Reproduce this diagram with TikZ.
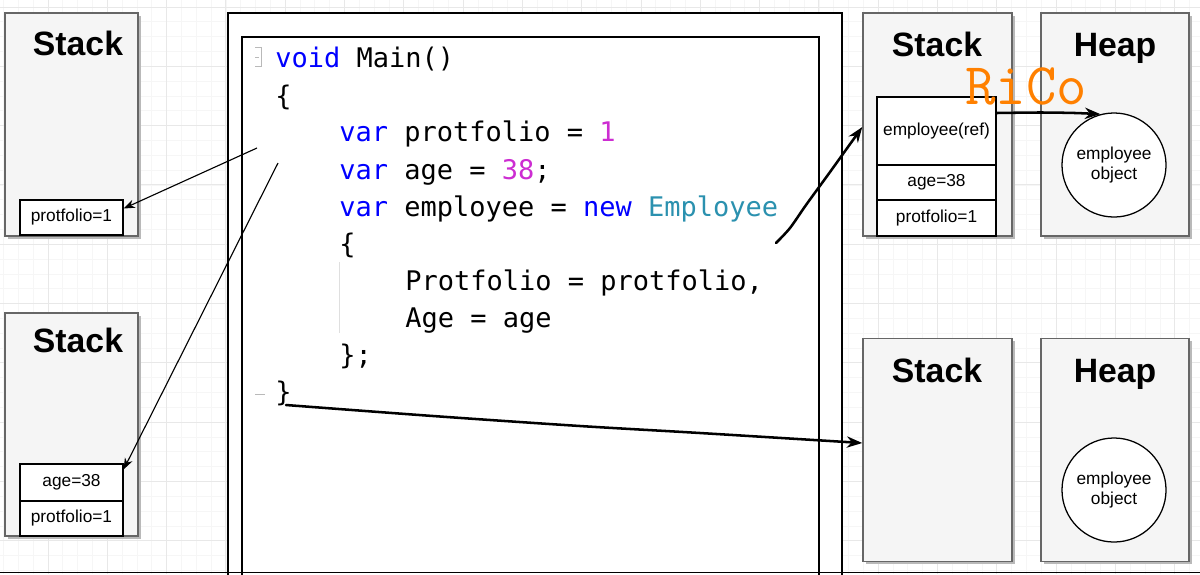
\documentclass[tikz,border=0pt]{standalone}
\usepackage{fontspec}
\setmainfont{Liberation Sans}
\newfontfamily\codefont{DejaVu Sans Mono}
\usetikzlibrary{%
  calc,arrows.meta,shadows}
\tikzset {>=Stealth}
\definecolor{kwblue}{RGB}{0,0,255}
\definecolor{numpink}{RGB}{205,45,210}
\definecolor{typeteal}{RGB}{43,145,175}
\definecolor{panelgray}{RGB}{245,245,245}
\definecolor{edgegray}{RGB}{102,102,102}
\definecolor{ricoorange}{RGB}{255,128,0}

\begin{document}
\begin{tikzpicture}[x=0.025cm,y=-0.025cm,
  memory/.style={draw=edgegray,fill=panelgray,line width=1pt,
    minimum width=3.325cm,minimum height=5.575cm,
    drop shadow={shadow xshift=0.07cm,shadow yshift=-0.07cm,fill=gray!55,opacity=1}},
  title/.style={anchor=base,inner sep=0pt,font=\bfseries\fontsize{24}{28}\selectfont},
  cell/.style={draw,fill=white,line width=0.9pt,inner sep=0pt,
    minimum width=2.575cm,minimum height=0.875cm,font=\fontsize{12.3}{14}\selectfont},
  obj/.style={circle,draw,fill=white,line width=0.9pt,minimum size=2.6cm,
    inner sep=0pt,align=center,font=\fontsize{12.3}{14.3}\selectfont},
  code/.style={anchor=base west,inner sep=0pt,font=\codefont\fontsize{19.2}{23}\selectfont},
  pointer/.style={->,line width=0.8pt,>={Stealth[length=8pt,width=6pt]}},
  scrawl/.style={-{Stealth[length=11pt,width=8pt]},line width=1.8pt,
    line cap=round,line join=round}]
\useasboundingbox (0,0) rectangle (1200,574);
% grid paper
\foreach \i in {0,...,80}
  \draw[gray!7,line width=0.5pt] ({3.5+\i*14.825},0) -- ++(0,574);
\foreach \i in {0,...,38}
  \draw[gray!7,line width=0.5pt] (0,{7+\i*14.825}) -- ++(1200,0);
\foreach \i in {0,...,19}
  \draw[gray!18,line width=0.6pt] ({48+\i*59.3},0) -- ++(0,574);
\foreach \i in {0,...,9}
  \draw[gray!18,line width=0.6pt] (0,{7+\i*59.3}) -- ++(1200,0);

% left: two stacks
\node (stack1) [memory] at (71.5,124.5) {};
\node (stack1t) [title] at (78,55) {Stack};
\node (pf1) [cell] at (71.5,217.5) {protfolio=1};

\node (stack2) [memory] at (71.5,424.5) {};
\node (stack2t) [title] at (78,352) {Stack};
\node (age2) [cell,minimum height=0.925cm] at (71.5,482.5) {age=38};
\node (pf2) [cell] at (71.5,518.5) {protfolio=1};

% code editor
\draw[line width=1.4pt,fill=white] (228,13) rectangle (842,590);
\draw[line width=1.1pt] (242,37) rectangle (819,590);
\draw[gray!55,line width=0.7pt] (255,47) -- (261,47) -- (261,66) -- (255,66)
  (255,57) -- (259,57);
\draw[gray!55,line width=0.7pt] (255,394) -- (265,394);
\draw[gray!25,line width=0.6pt] (339,262) -- (339,333);
\node (ln1) [code] at (275,67) {\textcolor{kwblue}{void} Main()};
\node (ln2) [code] at (275,105) {\{};
\node (ln3) [code] at (339,141) {\textcolor{kwblue}{var} protfolio = \textcolor{numpink}{1}};
\node (ln4) [code] at (339,179) {\textcolor{kwblue}{var} age = \textcolor{numpink}{38};};
\node (ln5) [code] at (339,216) {\textcolor{kwblue}{var} employee = \textcolor{kwblue}{new} \textcolor{typeteal}{Employee}};
\node (ln6) [code] at (339,253) {\{};
\node (ln7) [code] at (405,290) {Protfolio = protfolio,};
\node (ln8) [code] at (405,327) {Age = age};
\node (ln9) [code] at (339,364) {\};};
\node (ln10) [code] at (275,401) {\}};

% right: stack and heap, twice
\node (stackA) [memory,minimum width=3.725cm] at (937.5,124.5) {};
\node (stackAt) [title] at (937,56) {Stack};
\node (ref) [cell,minimum width=2.975cm,minimum height=1.7cm] at (936.5,131) {employee(ref)};
\node (age3) [cell,minimum width=2.975cm] at (936.5,182.5) {age=38};
\node (pf3) [cell,minimum width=2.975cm,minimum height=0.9cm] at (936.5,218) {protfolio=1};
\node (heapA) [memory,minimum width=3.7cm] at (1115,124.5) {};
\node (heapAt) [title] at (1115,56) {Heap};
\node (obj1) [obj] at (1114,165) {employee\\object};

\node (stackB) [memory,minimum width=3.725cm] at (937.5,450) {};
\node (stackBt) [title] at (937,382) {Stack};
\node (heapB) [memory,minimum width=3.7cm] at (1115,450) {};
\node (heapBt) [title] at (1115,382) {Heap};
\node (obj2) [obj] at (1114,490) {employee\\object};

% arrows
\coordinate (fromvar1) at (257,148);
\coordinate (fromvar2) at (278,163);
\coordinate (newcall) at (776,243);
\coordinate (endbrace) at (286,405);
\coordinate (hitA) at ($(stackA.west)+(0,2.5)$);
\coordinate (hitB) at ($(stackB.west)+(0,-7)$);
\coordinate (refout) at ($(ref.east)+(0,-18)$);
\draw[pointer] (fromvar1) -- ($(pf1.east)+(0,-9)$);
\draw[pointer] (fromvar2) -- ($(age2.north east)+(0,6)$);
\draw[scrawl] plot[smooth,tension=0.5] coordinates {(newcall) (790,228)
  (806,205) (830,172) (hitA)};
\draw[scrawl] plot[smooth,tension=0.5] coordinates {(endbrace) (433,416)
  (580,426) (700,433) (hitB)};
\draw[scrawl] plot[smooth,tension=0.5] coordinates {(refout) (1040,112.5)
  (1075,113) (obj1.105)};

\node (rico) [text=ricoorange,inner sep=0pt,font=\ttfamily\fontsize{42}{46}\selectfont]
  at (1026,86) {RiCo};
\draw[line width=1.4pt] (0,572.5) -- (1200,572.5);
\end{tikzpicture}
\end{document}
